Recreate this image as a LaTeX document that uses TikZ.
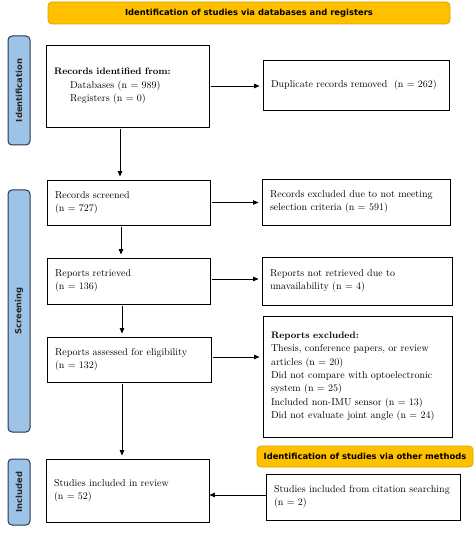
\documentclass[tikz,border=0pt]{standalone}
\usepackage{fontspec}
\newfontfamily\labelfont{DejaVu Sans}
\usetikzlibrary{arrows.meta}
\definecolor{banneryellow}{HTML}{FFC000}
\definecolor{bannerborder}{HTML}{D9A300}
\definecolor{sideblue}{HTML}{9DC3E6}
\definecolor{sideborder}{HTML}{2A3550}
\tikzset{
  box/.style={draw=black, line width=0.9pt, fill=white, align=left, inner xsep=8pt, inner ysep=2pt,
    font=\fontsize{10}{13.3}\selectfont},
  banner/.style={draw=bannerborder, line width=0.8pt, fill=banneryellow, rounded corners=4pt,
    inner sep=0pt, font=\labelfont\bfseries\fontsize{8.4}{10}\selectfont},
  side/.style={draw=sideborder, line width=1pt, fill=sideblue, rounded corners=4pt, inner sep=0pt},
  sidetext/.style={rotate=90, font=\labelfont\bfseries\fontsize{8.4}{10}\selectfont, text=black!85},
  arr/.style={line width=0.8pt, -{Triangle[length=5.5pt,width=4.5pt]}, shorten >=3pt, shorten <=2pt}
}
\begin{document}
\begin{tikzpicture}[x=1pt,y=-1pt]
\useasboundingbox (0,0) rectangle (474,545);
% banners
\node[banner, minimum width=402pt, minimum height=22pt] (top) at (249,13) {Identification of studies via databases and registers};
\node[banner, minimum width=216pt, minimum height=21pt] (other) at (365,456.5) {Identification of studies via other methods};
% side labels
\node[side, minimum width=22pt, minimum height=109pt] (sid) at (19,90.5) {};
\node[sidetext] (sidt) at (sid.center) {Identification};
\node[side, minimum width=22pt, minimum height=242pt] (sscr) at (19,311) {};
\node[sidetext] (sscrt) at (sscr.center) {Screening};
\node[side, minimum width=22pt, minimum height=66pt] (sinc) at (19,492) {};
\node[sidetext] (sinct) at (sinc.center) {Included};
% boxes
\node[box, minimum width=163pt, minimum height=82pt, text width=147pt] (b1) at (127.5,86)
  {{\bfseries\fontsize{9.4}{13.3}\selectfont Records identified from:}\\ \hspace*{16pt}Databases (n = 989)\\ \hspace*{16pt}Registers (n = 0)};
\node[box, minimum width=186pt, minimum height=50pt, text width=170pt] (dup) at (356,85)
  {Duplicate records removed~~(n = 262)};
\node[box, minimum width=163pt, minimum height=45pt, text width=147pt] (b2) at (128.5,202.5)
  {Records screened\\(n = 727)};
\node[box, minimum width=188pt, minimum height=46pt, text width=172pt] (exc) at (356,202)
  {Records excluded due to not meeting\\selection criteria (n = 591)};
\node[box, minimum width=163pt, minimum height=46pt, text width=147pt] (b3) at (128.5,281)
  {Reports retrieved\\(n = 136)};
\node[box, minimum width=190pt, minimum height=48pt, text width=174pt] (nr) at (357,281)
  {Reports not retrieved due to\\unavailability (n = 4)};
\node[box, minimum width=164pt, minimum height=45pt, text width=148pt] (b4) at (129,359.5)
  {Reports assessed for eligibility\\(n = 132)};
\node[box, minimum width=189pt, minimum height=121pt, text width=173pt] (re) at (357.5,376.5)
  {{\bfseries\fontsize{9.4}{13.3}\selectfont Reports excluded:}\\Thesis, conference papers, or review\\articles (n = 20)\\Did not compare with optoelectronic\\system (n = 25)\\Included non-IMU sensor (n = 13)\\Did not evaluate joint angle (n = 24)};
\node[box, minimum width=163pt, minimum height=63pt, text width=147pt] (b5) at (127.5,490.5)
  {Studies included in review\\(n = 52)};
\node[box, minimum width=194pt, minimum height=46pt, text width=178pt] (cit) at (363,497)
  {Studies included from citation searching\\(n = 2)};
% arrows
\draw[arr] (b1.south -| 120,0) -- (b2.north -| 120,0);
\draw[arr] (b2.south -| 121,0) -- (b3.north -| 121,0);
\draw[arr] (b3.south -| 122,0) -- (b4.north -| 122,0);
\draw[arr] (b4.south -| 122,0) -- (b5.north -| 122,0);
\draw[arr] (b1.east) -- (b1.east -| dup.west);
\draw[arr] (b2.east) -- (b2.east -| exc.west);
\draw[arr] ([yshift=2pt]b3.east) -- ([yshift=2pt]b3.east -| nr.west);
\draw[arr] ([yshift=2.5pt]b4.east) -- ([yshift=2.5pt]b4.east -| re.west);
\draw[arr, shorten >=0pt, shorten <=0pt] ([yshift=2pt]cit.west) -- ([yshift=2pt]cit.west -| b5.east);
\end{tikzpicture}
\end{document}
